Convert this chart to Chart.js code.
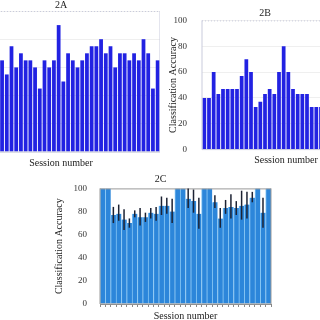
<!DOCTYPE html>
<html>
<head>
<meta charset="utf-8">
<script src="https://cdn.jsdelivr.net/npm/chart.js@4.4.1/dist/chart.umd.min.js"></script>
<style>
  html, body { margin: 0; padding: 0; width: 320px; height: 320px; overflow: hidden; background: #fff; }
  canvas { position: absolute; }
  #chartA { left: -40px; top: 0; width: 200px; height: 170px; }
  #chartB { left: 160px; top: 0; width: 210px; height: 170px; }
  #chartC { left: 50px; top: 170px; width: 225px; height: 154px; }
</style>
</head>
<body>
<canvas id="chartA" width="200" height="170"></canvas>
<canvas id="chartB" width="210" height="170"></canvas>
<canvas id="chartC" width="225" height="154"></canvas>
<script>
// session labels (panel A and B are cropped in the source picture, hidden sessions are null)
const sessionsA = [1,2,3,4,5,6,7,8,9,10,11,12,13,14,15,16,17,18,19,20,21,22,23,24,25,26,27,28,29,30,31,32,33,34,35,36,37,38,39,40,41,42];
const sessionsB = [1,2,3,4,5,6,7,8,9,10,11,12,13,14,15,16,17,18,19,20,21,22,23,24,25,26,27,28,29,30,31,32,33,34,35,36];
const sessionsC = [1,2,3,4,5,6,7,8,9,10,11,12,13,14,15,16,17,18,19,20,21,22,23,24,25,26,27,28,29,30,31,32];

const accuracyA = [null,null,null,null,null,null,null,null,
  65,55,75,60,70,65,65,60,45,65,60,65,90,50,70,65,60,65,70,75,
  75,80,70,75,60,70,70,65,70,65,80,70,45,65];
const accuracyB = [40,40,60,43,47,47,47,47,57,70,60,33,37,43,47,43,60,80,60,47,43,43,43,33,33,33,
  null,null,null,null,null,null,null,null,null,null];
const accuracyC = [100,100,77,78,73,70,78,75,75,79,78,85,85,80,100,100,91,89,78,100,100,88,74,83,84,83,85,86,92,100,79,100];
const errHighC = [null,null,84,86,82,74,81,83,79,83,84,93,92,91,null,null,100,99,92,null,null,94,83,90,95,89,98,97,97,null,92,null];
const errLowC  = [null,null,70,72,64,66,75,68,71,74,72,77,78,70,null,null,83,79,65,null,null,83,66,78,74,77,73,74,88,null,66,null];

const yTicks = [0, 20, 40, 60, 80, 100];

Chart.defaults.font.family = "'Liberation Serif', 'DejaVu Serif', serif";
Chart.defaults.color = '#222';

// box around the plot area, dotted on top
const frame = {
  id: 'frame',
  afterDatasetsDraw(chart, args, opts) {
    const {ctx, chartArea: a} = chart;
    ctx.save();
    ctx.lineWidth = 1;
    ctx.strokeStyle = opts.color;
    ctx.beginPath();
    ctx.moveTo(a.left, a.top); ctx.lineTo(a.left, a.bottom);
    ctx.lineTo(a.right, a.bottom); ctx.lineTo(a.right, a.top);
    ctx.stroke();
    ctx.setLineDash(opts.dash || []);
    ctx.beginPath();
    ctx.moveTo(a.left, a.top + 0.5); ctx.lineTo(a.right, a.top + 0.5);
    ctx.stroke();
    ctx.restore();
  }
};

const errorBars = {
  id: 'errorBars',
  afterDatasetsDraw(chart, args, opts) {
    if (!opts.high) return;
    const {ctx} = chart;
    const y = chart.scales.y;
    const meta = chart.getDatasetMeta(0);
    ctx.save();
    ctx.strokeStyle = opts.color;
    ctx.lineWidth = opts.width;
    meta.data.forEach((bar, i) => {
      if (opts.high[i] == null) return;
      ctx.beginPath();
      ctx.moveTo(bar.x, y.getPixelForValue(opts.high[i]));
      ctx.lineTo(bar.x, y.getPixelForValue(opts.low[i]));
      ctx.stroke();
    });
    ctx.restore();
  }
};

function sessionAxis(height, padBottom, ticks) {
  return {
    grid: ticks
      ? { drawOnChartArea: false, tickLength: 3, color: '#888' }
      : { display: false },
    border: { display: !!ticks, color: '#888' },
    ticks: { display: false },
    title: { display: true, text: 'Session number', font: { size: 10 }, padding: { top: 0, bottom: padBottom } },
    afterFit(s) { s.height = height; }
  };
}

function accuracyAxis(width, labels, labelPad, titlePad) {
  return {
    min: 0, max: 100,
    afterBuildTicks(s) { s.ticks = yTicks.map(v => ({ value: v })); },
    grid: { color: labels === 'C' ? 'rgba(0,0,0,0)' : '#efefef', drawTicks: false },
    border: { display: false },
    ticks: { display: !!labels, font: { size: 9 }, padding: labelPad, color: '#333' },
    title: { display: !!labels, text: 'Classification Accuracy', font: { size: 10 }, padding: { top: titlePad } },
    afterFit(s) { s.width = width; }
  };
}

function panelTitle(text, padBottom) {
  return { display: true, text: text, font: { size: 10, weight: 'normal', lineHeight: 1 }, padding: { top: 0, bottom: padBottom }, color: '#222' };
}

const common = { responsive: false, animation: false, events: [] };

new Chart(document.getElementById('chartA'), {
  type: 'bar',
  data: {
    labels: sessionsA,
    datasets: [{ data: accuracyA, backgroundColor: '#2222e2', barPercentage: 0.8, categoryPercentage: 1 }]
  },
  options: Object.assign({}, common, {
    layout: { padding: { left: 2 } },
    scales: { x: sessionAxis(18, 1, false), y: accuracyAxis(0, false, 0, 0) },
    plugins: { legend: { display: false }, tooltip: { enabled: false },
      title: panelTitle('2A', 1), frame: { color: '#c9cbdc', dash: [1, 2] } }
  }),
  plugins: [frame]
});

new Chart(document.getElementById('chartB'), {
  type: 'bar',
  data: {
    labels: sessionsB,
    datasets: [{ data: accuracyB, backgroundColor: '#2222e2', barPercentage: 0.8, categoryPercentage: 1 }]
  },
  options: Object.assign({}, common, {
    scales: { x: sessionAxis(18, 1, false), y: accuracyAxis(42, 'B', 15, 7) },
    plugins: { legend: { display: false }, tooltip: { enabled: false },
      title: panelTitle('2B', 2), frame: { color: '#c9cbdc', dash: [1, 2] } }
  }),
  plugins: [frame]
});

new Chart(document.getElementById('chartC'), {
  type: 'bar',
  data: {
    labels: sessionsC,
    datasets: [{
      data: accuracyC, backgroundColor: '#2c86da', borderColor: '#86c6f4',
      borderWidth: { left: 1, right: 0, top: 0, bottom: 0 }, borderSkipped: false,
      barPercentage: 1, categoryPercentage: 1
    }]
  },
  options: Object.assign({}, common, {
    layout: { padding: { right: 4 } },
    scales: { x: sessionAxis(20, 2, true), y: accuracyAxis(50, 'C', 13, 3) },
    plugins: { legend: { display: false }, tooltip: { enabled: false },
      title: panelTitle('2C', 4), frame: { color: '#9a9a9a' },
      errorBars: { high: errHighC, low: errLowC, color: '#1c2233', width: 1.5 } }
  }),
  plugins: [frame, errorBars]
});
</script>
</body>
</html>
